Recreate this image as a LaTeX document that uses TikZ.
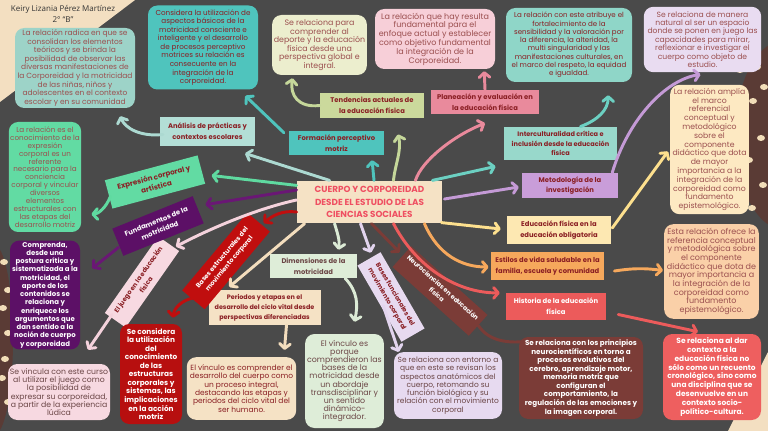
\documentclass[tikz,border=0pt]{standalone}
\usepackage{fontspec}
\setmainfont{Poppins}
\newfontfamily\authorfont{Open Sans}
\usetikzlibrary{arrows.meta,calc}
\newcommand\fsz[2]{\fontsize{#1}{#2}\selectfont}
\definecolor{bgray}{HTML}{4A4A4A}
\definecolor{beige}{HTML}{F3DFC1}
\definecolor{brownd}{HTML}{5A3B35}
\definecolor{dotc}{HTML}{F1DDB8}
\definecolor{authtext}{HTML}{333333}
\definecolor{descred}{HTML}{9B4F4F}
\definecolor{descdark}{HTML}{6B4646}
\definecolor{topicred}{HTML}{8A1F24}
\definecolor{centred}{HTML}{EF4F62}
% boxes
\definecolor{cA1}{HTML}{9DD3C8}
\definecolor{cA2}{HTML}{4FC4BD}
\definecolor{cA3}{HTML}{ECEECE}
\definecolor{cA4}{HTML}{F7CFD8}
\definecolor{cA5}{HTML}{8FD6C8}
\definecolor{cA6}{HTML}{E9DCF1}
\definecolor{cA7}{HTML}{FDE9C2}
\definecolor{cA8}{HTML}{FAD0A8}
\definecolor{cA9}{HTML}{EE5F5F}
\definecolor{cA10}{HTML}{7B3C37}
\definecolor{cA11}{HTML}{E7DAF0}
\definecolor{cA12}{HTML}{DEEDD8}
\definecolor{cA13}{HTML}{F5E2C5}
\definecolor{cA14}{HTML}{B70F0F}
\definecolor{cA15}{HTML}{F7D9E1}
\definecolor{cA16}{HTML}{5C1066}
\definecolor{cA17}{HTML}{62DBA3}
\definecolor{cT1}{HTML}{B3DED6}
\definecolor{cT3}{HTML}{CBD99C}
\definecolor{cT4}{HTML}{E98A9C}
\definecolor{cT5}{HTML}{98D8CB}
\definecolor{cT6}{HTML}{C99DD9}
\definecolor{cT7}{HTML}{FDE8B2}
\definecolor{cT8}{HTML}{F6A85C}
\definecolor{cT9}{HTML}{EC5B5B}
\definecolor{cT14}{HTML}{C00E0E}
% arrows
\definecolor{aT1}{HTML}{ACD9D1}
\definecolor{aT2}{HTML}{4FC4BD}
\definecolor{aT3}{HTML}{C5D79A}
\definecolor{aT4}{HTML}{E98A9C}
\definecolor{aT5}{HTML}{6CD0C2}
\definecolor{aT6}{HTML}{C49AD6}
\definecolor{aT7}{HTML}{FDE08E}
\definecolor{aT8}{HTML}{F6A85C}
\definecolor{aT9}{HTML}{EC5B5B}
\definecolor{aT10}{HTML}{7B3C37}
\definecolor{aT11}{HTML}{E2D4EE}
\definecolor{aT12}{HTML}{DCEBD6}
\definecolor{aT13}{HTML}{F3DDBD}
\definecolor{aT14}{HTML}{C00E0E}
\definecolor{aT15}{HTML}{F4D2DC}
\definecolor{aT16}{HTML}{6A1775}
\definecolor{aT17}{HTML}{5FDAA0}
\begin{document}
\begin{tikzpicture}[x=0.75pt,y=-0.75pt,
  desc/.style={rounded corners=7pt, align=center, inner sep=1pt, text=descred},
  topic/.style={align=center, inner sep=1pt, font=\fsz{5.1}{8}\bfseries, text=topicred},
  rtopic/.style={topic, inner sep=3pt, font=\fsz{4.8}{7}\bfseries},
  arr/.style={line width=2.2pt, line cap=round, -{Straight Barb[length=3.5pt,width=8pt,round]}},
  link/.style={line width=2.2pt, line cap=round}]
% background
\fill[bgray] (0,0) rectangle (768,431);
\useasboundingbox (0,0) rectangle (768,431);
\fill[beige] (0,0) -- (135,0) -- (0,102) -- cycle;
\fill[beige] (768,352) -- (768,431) -- (728,431) -- cycle;
\begin{scope}
\clip (0,0) rectangle (768,431);
\fill[brownd] (785,135) ellipse [x radius=50, y radius=95];
\fill[brownd] (-6,340) ellipse [x radius=19, y radius=95];
\foreach \p in {(740,70),(757,67),(764,87),(753,101),(744,124),(761,138),(749,160),(763,185),(752,208)}
  \fill[dotc] \p ellipse [x radius=4, y radius=3];
\foreach \p in {(4,262),(8,290),(3,308),(8,333),(5,359),(2,378),(8,402)}
  \fill[dotc] \p ellipse [x radius=4, y radius=3];
\end{scope}
% author
\node[font=\authorfont\fsz{6}{7.6}, text=authtext, align=center] (au) at (63,14) {Keiry Lizania Pérez Martínez\\2° “B”};
% center
\node[fill=cA13, minimum width=109pt, minimum height=32pt, align=center, inner sep=1pt,
      font=\fsz{6.6}{9.2}\bfseries, text=centred] (C) at (369.5,202)
  {CUERPO Y CORPOREIDAD\\DESDE EL ESTUDIO DE LAS\\CIENCIAS SOCIALES};
% topics
\node[topic, fill=cT1, minimum width=71pt, minimum height=22pt] (T1) at (207.5,131.5) {Análisis de prácticas y\\contextos escolares};
\node[topic, fill=cA2, minimum width=71pt, minimum height=18pt] (T2) at (336.5,143) {Formación perceptivo\\motriz};
\node[topic, fill=cT3, minimum width=78pt, minimum height=19pt] (T3) at (372,105.5) {Tendencias actuales de\\la educación física};
\node[topic, fill=cT4, minimum width=81pt, minimum height=18pt] (T4) at (485,102) {Planeación y evaluación en\\la educación física};
\node[topic, fill=cT5, minimum width=85pt, minimum height=25pt, font=\fsz{4.9}{7.2}\bfseries] (T5) at (560.5,143.5) {Interculturalidad crítica e\\inclusión desde la educación\\física};
\node[topic, fill=cT6, minimum width=72pt, minimum height=19pt] (T6) at (570,185.5) {Metodología de la\\investigación};
\node[topic, fill=cT7, minimum width=78pt, minimum height=21pt] (T7) at (559,230) {Educación física en la\\educación obligatoria};
\node[topic, fill=cT8, minimum width=85pt, minimum height=21pt] (T8) at (547.5,266) {Estilos de vida saludable en la\\familia, escuela y comunidad};
\node[topic, fill=cT9, text=white, minimum width=75pt, minimum height=20pt] (T9) at (556,306.5) {Historia de la educación\\física};
\node[rtopic, fill=cA10, text=white, minimum width=77pt, minimum height=21pt, rotate=-42] (T10) at (440,291) {Neurociencias en educación\\física};
\node[rtopic, fill=cA11, minimum width=66pt, minimum height=20pt, rotate=-60] (T11) at (391,297) {Bases funcionales del\\movimiento corporal};
\node[topic, fill=cA12, text=descdark, minimum width=65pt, minimum height=18pt] (T12) at (313.5,266) {Dimensiones de la\\motricidad};
\node[topic, fill=cA13, minimum width=84pt, minimum height=26pt, font=\fsz{4.8}{7.4}\bfseries] (T13) at (264.5,307.5) {Periodos y etapas en el\\desarrollo del ciclo vital desde\\perspectivas diferenciadas};
\node[rtopic, fill=cT14, text=white, minimum width=76pt, minimum height=22pt, rotate=50] (T14) at (226,261) {Bases estructurales del\\movimiento corporal};
\node[rtopic, fill=cA15, minimum width=70pt, minimum height=19pt, rotate=55] (T15) at (142,282) {El juego en la educación\\física};
\node[rtopic, fill=cA16, text=white, minimum width=65pt, minimum height=22pt, rotate=22, font=\fsz{5.1}{7.2}\bfseries] (T16) at (158,226) {Fundamentos de la\\motricidad};
\node[rtopic, fill=cA17, minimum width=72pt, minimum height=22pt, rotate=15, font=\fsz{5.4}{7.4}\bfseries] (T17) at (155,182) {Expresión corporal y\\artística};
% descriptions
\node[desc, fill=cA1, minimum width=90pt, minimum height=60pt, font=\fsz{5.6}{6.4}] (A1) at (75,68)
 {La relación radica en que se\\consolidan los elementos\\teóricos y se brinda la\\posibilidad de observar las\\diversas manifestaciones de\\la Corporeidad y la motricidad\\de las niñas, niños y\\adolescentes en el contexto\\escolar y en su comunidad};
\node[desc, fill=cA2, text=topicred, minimum width=82.5pt, minimum height=63pt, font=\fsz{5.4}{6.4}] (A2) at (203,47.5)
 {Considera la utilización de\\aspectos básicos de la\\motricidad consciente e\\inteligente y el desarrollo\\de procesos perceptivo\\motrices su relación es\\consecuente en la\\integración de la\\corporeidad.};
\node[desc, fill=cA3, minimum width=71pt, minimum height=45pt, font=\fsz{5.9}{6.4}] (A3) at (319.5,45)
 {Se relaciona para\\comprender al\\deporte y la educación\\física desde una\\perspectiva global e\\integral.};
\node[desc, fill=cA4, minimum width=90pt, minimum height=45pt, font=\fsz{6}{6.6}] (A4) at (435,39)
 {La relación que hay resulta\\fundamental para el\\enfoque actual y establecer\\como objetivo fundamental\\la integración de la\\Corporeidad.};
\node[desc, fill=cA5, text=topicred, minimum width=94.5pt, minimum height=55.5pt, font=\fsz{5.3}{6.2}] (A5) at (569,45)
 {La relación con este atribuye el\\fortalecimiento de la\\sensibilidad y la valoración por\\la diferencia, la alteridad, la\\multi singularidad y las\\manifestaciones culturales, en\\el marco del respeto, la equidad\\e igualdad.};
\node[desc, fill=cA6, minimum width=88pt, minimum height=49pt, font=\fsz{5.7}{6.3}] (A6) at (702.5,39.5)
 {Se relaciona de manera\\natural al ser un espacio\\donde se ponen en juego las\\capacidades para mirar,\\reflexionar e investigar el\\cuerpo como objeto de\\estudio.};
\node[desc, fill=cA7, minimum width=59pt, minimum height=97pt, font=\fsz{5.8}{6.6}] (A7) at (709.5,149.5)
 {La relación amplía\\el marco\\referencial\\conceptual y\\metodológico\\sobre el\\componente\\didáctico que dota\\de mayor\\importancia a la\\integración de la\\corporeidad como\\fundamento\\epistemológico.};
\node[desc, fill=cA8, minimum width=71pt, minimum height=71pt, font=\fsz{6}{6.5}] (A8) at (711.5,271.5)
 {Esta relación ofrece la\\referencia conceptual\\y metodológica sobre\\el componente\\didáctico que dota de\\mayor importancia a\\la integración de la\\corporeidad como\\fundamento\\epistemológico.};
\node[desc, fill=cA9, text=white, minimum width=73.5pt, minimum height=64.5pt, font=\fsz{5.6}{6.6}\bfseries] (A9) at (712,377)
 {Se relaciona al dar\\contexto a la\\educación física no\\sólo como un recuento\\cronológico, sino como\\una disciplina que se\\desenvuelve en un\\contexto socio-\\político-cultura.};
\node[desc, fill=cA10, text=white, minimum width=93pt, minimum height=61.5pt, font=\fsz{5.4}{6.4}\bfseries] (A10) at (581,378)
 {Se relaciona con los principios\\neurocientíficos en torno a\\procesos evolutivos del\\cerebro, aprendizaje motor,\\memoria motriz que\\configuran el\\comportamiento, la\\regulación de las emociones y\\la imagen corporal.};
\node[desc, fill=cA11, text=descdark, minimum width=81pt, minimum height=50pt, font=\fsz{5.6}{6.2}] (A11) at (448,385.5)
 {Se relaciona con entorno a\\que en este se revisan los\\aspectos anatómicos del\\cuerpo, retomando su\\función biológica y su\\relación con el movimiento\\corporal};
\node[desc, fill=cA12, text=descdark, minimum width=59pt, minimum height=70.5pt, font=\fsz{5.9}{6.1}] (A12) at (344.5,381)
 {El vínculo es\\porque\\comprendieron las\\bases de la\\motricidad desde\\un abordaje\\transdisciplinar y\\un sentido\\dinámico-\\integrador.};
\node[desc, fill=cA13, text=topicred, minimum width=82pt, minimum height=47pt, font=\fsz{5.6}{6.2}] (A13) at (241.5,388.5)
 {El vínculo es comprender el\\desarrollo del cuerpo como\\un proceso integral,\\destacando las etapas y\\periodos del ciclo vital del\\ser humano.};
\node[desc, fill=cA14, text=white, minimum width=46.5pt, minimum height=75pt, font=\fsz{5.5}{6.4}\bfseries] (A14) at (151,374)
 {Se considera\\la utilización\\del\\conocimiento\\de las\\estructuras\\corporales y\\sistemas, las\\implicaciones\\en la acción\\motriz};
\node[desc, fill=cA15, text=descdark, minimum width=76.5pt, minimum height=42pt, font=\fsz{5.8}{6.2}] (A15) at (59,392)
 {Se vincula con este curso\\al utilizar el juego como\\la posibilidad de\\expresar su corporeidad,\\a partir de la experiencia\\lúdica};
\node[desc, fill=cA16, text=white, minimum width=52.5pt, minimum height=81pt, font=\fsz{5.2}{6.2}\bfseries] (A16) at (45,295)
 {Comprenda,\\desde una\\postura crítica y\\sistematizada a la\\motricidad, el\\aporte de los\\contenidos se\\relaciona y\\enriquece los\\argumentos que\\dan sentido a la\\noción de cuerpo\\y corporeidad};
\node[desc, fill=cA17, minimum width=52.5pt, minimum height=82.5pt, font=\fsz{5.4}{5.9}] (A17) at (45,177)
 {La relación es el\\conocimiento de la\\expresión\\corporal es un\\referente\\necesario para la\\conciencia\\corporal y vincular\\diversos\\elementos\\estructurales con\\las etapas del\\desarrollo motriz};
% center -> topics
\draw[arr,aT1] ($(C.north west)+(33,0)$) -- ($(T1.south east)+(-10,7)$);
\draw[arr,aT17] ($(C.north west)+(0,5)$) -- ($(T17.east)+(10,6)$);
\draw[arr,aT16] ($(C.west)+(0,-12)$) -- ($(T16.east)+(7,-5)$);
\draw[arr,aT15] ($(C.west)+(0,-2)$) .. controls (260,208) and (215,226) .. ($(T15.east)+(7,3)$);
\draw[arr,aT14] ($(C.west)+(0,10)$) .. controls (282,210) and (272,216) .. ($(T14.east)+(5,1)$);
\draw[arr,aT13] ($(C.south west)+(8,0)$) -- ($(T13.north west)+(21,-3)$);
\draw[arr,aT12] ($(C.south west)+(38,0)$) .. controls (337,232) and (340,240) .. ($(T12.north)+(25,-4)$);
\draw[arr,aT11] ($(C.south)+(-9,0)$) -- ($(T11.west)+(2,-6)$);
\draw[arr,aT10] ($(C.south)+(2,0)$) -- ($(T10.west)+(-2,-4)$);
\draw[arr,aT9] ($(C.south)+(24,0)$) .. controls (415,265) and (455,293) .. ($(T9.north west)+(-6,0)$);
\draw[arr,aT8] ($(C.south east)+(-18,0)$) .. controls (438,255) and (462,267) .. ($(T8.west)+(-2,1)$);
\draw[arr,aT7] ($(C.south east)+(-1,-1)$) -- ($(T7.west)+(-6,-1)$);
\draw[arr,aT6] ($(C.east)+(2,-3)$) -- ($(T6.west)+(-3,1.5)$);
\draw[arr,aT5] ($(C.north east)+(-10,0)$) -- ($(T5.south west)+(-8,6)$);
\draw[arr,aT4] ($(C.north east)+(-27,0)$) .. controls (422,160) and (455,135) .. ($(T4.south)+(0,9)$);
\draw[arr,aT3] ($(C.north east)+(-49,0)$) .. controls (395,165) and (402,150) .. ($(T3.south)+(26,16)$);
\draw[arr,aT2] ($(C.north)+(4.5,0)$) -- ($(T2.south east)+(-12,5)$);
% topics -> descriptions
\draw[arr,aT1] ($(T1.west)+(3,3)$) .. controls (140,137) and (125,128) .. ($(A1.south east)+(-15,8)$);
\draw[arr,aT2] ($(T2.north west)+(-5,2)$) -- ($(A2.south east)+(-13,6)$);
\draw[arr,aT3] (T3.west) .. controls (298,108) and (290,95) .. ($(A3.south)+(-27,3)$);
\draw[arr,aT4] (T4.north) -- ($(A4.south east)+(-11,2)$);
\draw[arr,aT5] ($(T5.north)+(20,0)$) .. controls (598,120) and (608,110) .. ($(A5.south east)+(-24,13)$);
\draw[arr,aT6] ($(T6.north east)+(-6,0)$) .. controls (628,120) and (665,80) .. ($(A6.south)+(-2,2)$);
\draw[arr,aT7] ($(T7.east)+(1,-2)$) -- ($(A7.west)+(-2,2)$);
\draw[arr,aT8] ($(T8.east)+(10,5)$) to[bend left=8] ($(A8.west)+(-1,-1)$);
\draw[arr,aT9] ($(T9.east)+(12,8)$) -- ($(A9.north)+(-14,-2)$);
\draw[link,aT10] (T10.east) .. controls (488,340) and (505,343) .. ($(A10.north west)+(3,5)$);
\draw[arr,aT11] ($(T11.south)+(4,2)$) -- ($(A11.north west)+(5,0)$);
\draw[arr,aT12] ($(T12.south east)+(-12,0)$) .. controls (358,292) and (358,305) .. ($(A12.north)+(10,-12)$);
\draw[arr,aT13] ($(T13.south)+(22,0)$) -- ($(A13.north east)+(-12,-7)$);
\draw[arr,aT14] ($(T14.west)+(0,-2)$) .. controls (182,300) and (174,308) .. ($(A14.north)+(22,-6)$);
\draw[arr,aT15] ($(T15.west)+(-3,-6)$) -- ($(A15.north)+(29,-14)$);
\draw[arr,aT16] ($(T16.west)+(1,5)$) -- ($(A16.north east)+(12,28)$);
\draw[arr,aT17] ($(T17.west)+(2,2)$) .. controls (106,208) and (98,214) .. ($(A17.south east)+(10,-18)$);
\end{tikzpicture}
\end{document}
